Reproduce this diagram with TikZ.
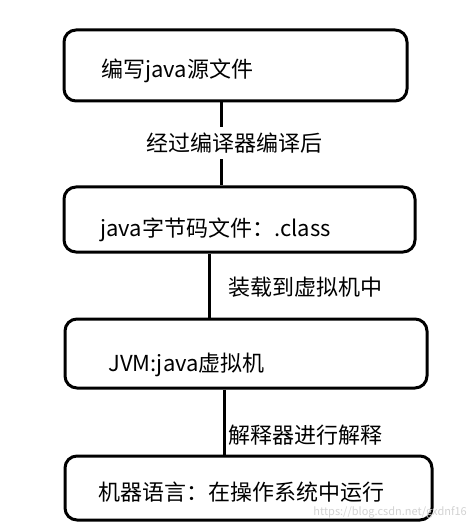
\documentclass[tikz,border=0pt]{standalone}
\usepackage{fontspec}
\setmainfont{Noto Sans CJK SC}
\begin{document}
\begin{tikzpicture}
		[x=1pt,y=-1pt,
		box/.style={draw, line width=3pt, rounded corners=12pt,
			anchor=north west, align=left, inner ysep=0pt,
			font=\fontsize{22}{26}\selectfont, text depth=4pt},
		link/.style={line width=3pt},
		step label/.style={font=\fontsize{22}{26}\selectfont, inner sep=1pt}]
		\useasboundingbox (0,0) rectangle (474,529);
		\node[box, minimum width=343pt, minimum height=71pt,
			inner xsep=37.5pt, text width=268pt, text height=28.8pt]
			(src) at (62.5,28.5) {编写java源文件};
		\node[box, minimum width=351pt, minimum height=65pt,
			inner xsep=36.5pt, text width=278pt, text height=38.8pt]
			(byte) at (62.5,185.5) {java字节码文件：.class};
		\node[box, minimum width=362pt, minimum height=69pt,
			inner xsep=43.5pt, text width=275pt, text height=40.8pt]
			(jvm) at (63.5,317.5) {JVM:java虚拟机};
		\node[box, minimum width=367pt, minimum height=64pt,
			inner xsep=33.5pt, text width=300pt, text height=29.8pt]
			(run) at (63.5,454.5) {机器语言：在操作系统中运行};
		\coordinate (l1) at (221,0);
		\coordinate (l2) at (209,0);
		\coordinate (l3) at (224,0);
		\draw[link] (src.south -| l1) -- (byte.north -| l1);
		\draw[link] (byte.south -| l2) -- (jvm.north -| l2);
		\draw[link] (jvm.south -| l3) -- (run.north -| l3);
		\node[step label, fill=white, minimum height=32pt] (compile) at (234.5,143) {经过编译器编译后};
		\node[step label, anchor=west] (load) at (227,287) {装载到虚拟机中};
		\node[step label, anchor=west] (interp) at (227,435) {解释器进行解释};
		\node[font=\fontsize{11}{13}\selectfont, text=gray!35, anchor=east, inner sep=0pt]
			(mark) at (467,512) {https://blog.csdn.net/gxdnf16};
	\end{tikzpicture}
\end{document}
